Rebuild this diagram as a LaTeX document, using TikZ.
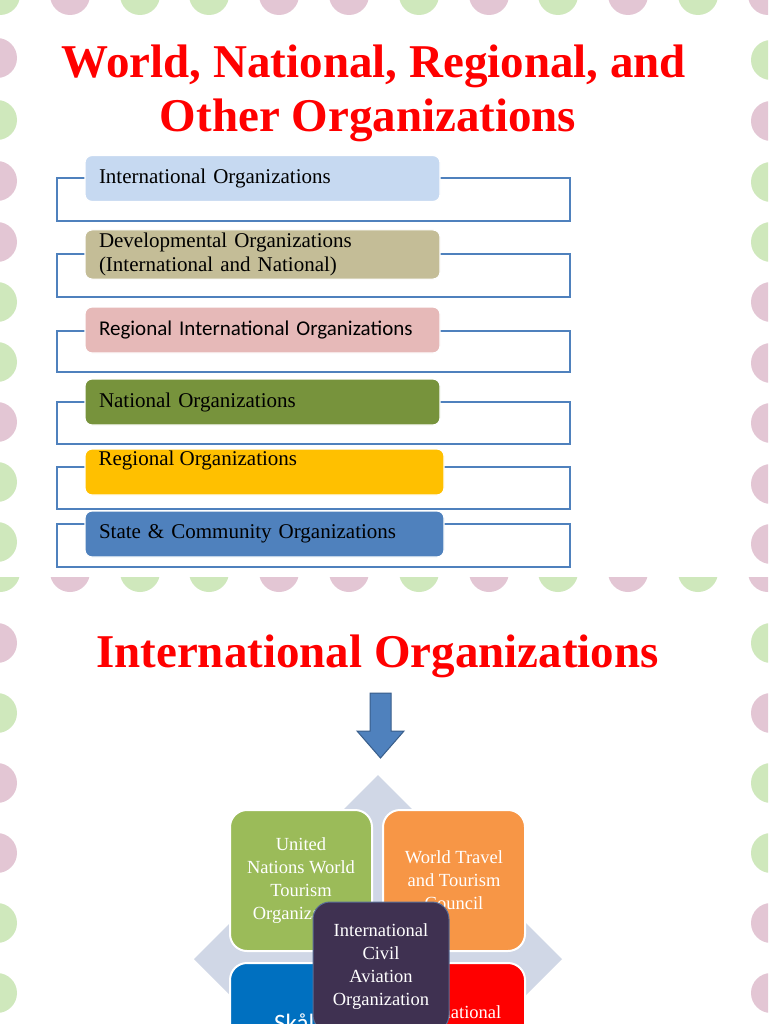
\documentclass[tikz,border=0pt]{standalone}
\usepackage{fontspec}
\setmainfont{Liberation Serif}
\newfontfamily\calfont{Carlito}
\usetikzlibrary{positioning,calc}
\definecolor{TitleRed}{HTML}{FF0000}
\definecolor{DotPink}{HTML}{E3C6D4}
\definecolor{DotGreen}{HTML}{CFE8BC}
\definecolor{Frame}{HTML}{4F81BD}
\definecolor{IntlBlue}{HTML}{C6D9F1}
\definecolor{DevTan}{HTML}{C4BD97}
\definecolor{RegPink}{HTML}{E6B9B8}
\definecolor{NatGreen}{HTML}{77933C}
\definecolor{RegAmber}{HTML}{FFC000}
\definecolor{StateBlue}{HTML}{4F81BD}
\definecolor{ArrowEdge}{HTML}{385D8A}
\definecolor{DiamondGrey}{HTML}{D0D7E6}
\definecolor{UnwtoGreen}{HTML}{9BBB59}
\definecolor{WttcOrange}{HTML}{F79646}
\definecolor{SkalBlue}{HTML}{0070C0}
\definecolor{IataRed}{HTML}{FF0000}
\definecolor{IcaoPurple}{HTML}{3F3151}
\definecolor{IcaoEdge}{HTML}{5A6E96}
\tikzset{
  titletext/.style={text=TitleRed,font=\fontsize{47}{54}\selectfont\bfseries,inner sep=0pt},
  bracketline/.style={draw=Frame,line width=1.3pt},
  listbox/.style={rounded corners=7pt,draw=white,line width=1.2pt,minimum height=46pt,text width=327pt,align=left,inner xsep=14pt,font=\fontsize{21}{23.5}\selectfont},
  quad/.style={rounded corners=17pt,draw=white,line width=2pt,minimum width=142pt,minimum height=141pt,align=center,text=white,font=\fontsize{18.5}{23}\selectfont},
  centerbox/.style={rounded corners=17pt,draw=IcaoEdge,line width=1pt,fill=IcaoPurple,minimum width=136pt,minimum height=130pt,align=center,text=white,font=\fontsize{18.5}{23}\selectfont},
  downarrow/.style={fill=StateBlue,draw=ArrowEdge,line width=1pt,line join=miter}
}
\begin{document}
\begin{tikzpicture}[x=1pt,y=-1pt]
  \useasboundingbox (0,0) rectangle (768,1024);
  \clip (0,0) rectangle (768,1024);
  \fill[white] (0,0) rectangle (768,1024);
  \begin{scope}
    \clip (0,0) rectangle (768,576);
    \foreach \x/\c in {0/DotGreen,70/DotPink,140/DotGreen,209/DotGreen,279/DotPink,349/DotPink,419/DotGreen,489/DotPink,558/DotGreen,628/DotPink,698/DotGreen,768/DotPink}
      \fill[\c] (\x,-5) circle (20);
    \foreach \y/\c in {58/DotPink,120/DotGreen,181/DotPink,242/DotPink,302/DotGreen,362/DotGreen,422/DotPink,482/DotGreen,542/DotGreen}
      \fill[\c] (-3,\y) circle (20);
    \foreach \y/\c in {60/DotGreen,121/DotPink,182/DotGreen,242/DotGreen,302/DotPink,363/DotPink,423/DotPink,484/DotPink,544/DotPink}
      \fill[\c] (771,\y) circle (20);
  \end{scope}
  \begin{scope}
    \clip (0,577) rectangle (768,1024);
    \foreach \x/\c in {0/DotGreen,70/DotPink,140/DotGreen,209/DotGreen,279/DotPink,349/DotPink,419/DotGreen,489/DotPink,558/DotGreen,628/DotPink,698/DotGreen,768/DotPink}
      \fill[\c] (\x,572) circle (20);
    \foreach \y/\c in {643/DotPink,713/DotGreen,783/DotPink,853/DotPink,923/DotGreen,993/DotGreen}
      \fill[\c] (-3,\y) circle (20);
    \foreach \y/\c in {643/DotGreen,713/DotPink,783/DotGreen,853/DotGreen,923/DotPink,993/DotPink}
      \fill[\c] (771,\y) circle (20);
  \end{scope}

  \node[titletext,anchor=base] (title) at (374,78) {World, National, Regional, and};
  \node[titletext,anchor=base] (titleb) at (368,132) {Other Organizations};
  \foreach \t/\b in {178/221,254/297,331/372,402/444,467/509,524/567}
    \draw[bracketline] (57,\t) rectangle (570,\b);
  \node[listbox,fill=IntlBlue] (intl) at (262.5,178.5) {International Organizations};
  \node[listbox,fill=DevTan] (devel) at (262.5,254.5) {Developmental Organizations\\(International and National)};
  \node[listbox,fill=RegPink,font=\calfont\fontsize{21}{23.5}\selectfont] (regintl) at (262.5,330) {Regional International Organizations};
  \node[listbox,fill=NatGreen] (natl) at (262.5,402) {National Organizations};
  \node[listbox,fill=RegAmber,text width=331pt] (regl) at (264.5,472) {};
  \node[anchor=west,inner sep=0pt,font=\fontsize{21}{23.5}\selectfont] (reglt) at ($(regl.west)+(14,-12)$) {Regional Organizations};
  \node[listbox,fill=StateBlue,text width=331pt] (state) at (264.5,534) {State \& Community Organizations};

  \node[titletext,anchor=base] (intltitle) at (377.5,667) {International Organizations};
  \draw[downarrow] (370,693) -- (391,693) -- (391,731) -- (404,731) -- (380.5,758) -- (357,731) -- (370,731) -- cycle;
  \fill[DiamondGrey] (378,775) -- (562,959) -- (378,1143) -- (194,959) -- cycle;
  \node[quad,fill=UnwtoGreen] (unwto) at (301,880.5) {United\\Nations World\\Tourism\\Organization};
  \node[quad,fill=WttcOrange] (wttc) at (454,880.5) {World Travel\\and Tourism\\Council};
  \node[quad,fill=SkalBlue] (skal) at (301,1033.5) {};
  \node[quad,fill=IataRed] (iata) at (454,1033.5) {};
  \node[anchor=base west,inner sep=0pt,text=white,font=\calfont\fontsize{25}{30}\selectfont] (skalt) at (274,1031) {Skål};
  \node[text=white,inner sep=0pt,font=\fontsize{18.5}{23}\selectfont] (iatat) at (454,1012) {International};
  \node[centerbox] (icao) at (381,967) {International\\Civil\\Aviation\\Organization};
\end{tikzpicture}
\end{document}
